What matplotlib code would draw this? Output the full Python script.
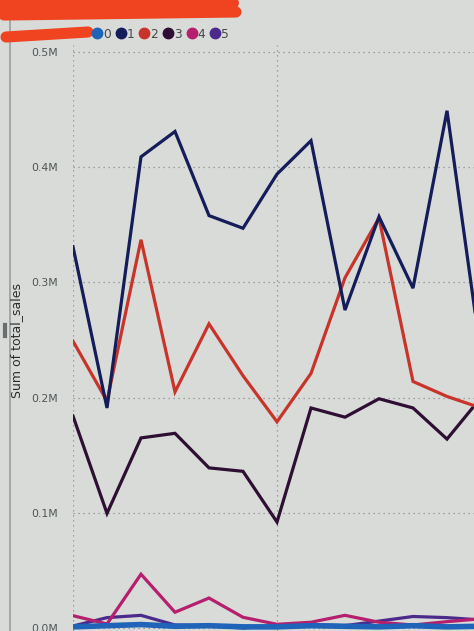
import matplotlib
matplotlib.use("Agg")
import matplotlib.pyplot as plt
from matplotlib.lines import Line2D
from matplotlib.ticker import FuncFormatter

# ---- data (values in millions) ----
periods = list(range(13))
series_names = ["0", "1", "2", "3", "4", "5"]
s0 = [0.001, 0.002, 0.003, 0.0015, 0.002, 0.001, 0.001, 0.002, 0.0015, 0.001, 0.002, 0.001, 0.0015]
s1 = [0.331, 0.191, 0.409, 0.431, 0.358, 0.347, 0.394, 0.423, 0.276, 0.357, 0.295, 0.449, 0.237]
s2 = [0.249, 0.197, 0.337, 0.205, 0.264, 0.219, 0.179, 0.221, 0.304, 0.356, 0.214, 0.201, 0.191]
s3 = [0.184, 0.0995, 0.165, 0.169, 0.139, 0.136, 0.092, 0.191, 0.183, 0.199, 0.191, 0.164, 0.200]
s4 = [0.0107, 0.0035, 0.0467, 0.0137, 0.026, 0.0093, 0.0032, 0.005, 0.011, 0.005, 0.0026, 0.0055, 0.008]
s5 = [0.0017, 0.009, 0.011, 0.0026, 0.002, 0.0, 0.002, 0.003, 0.002, 0.006, 0.010, 0.009, 0.007]
y_ticks = [0.0, 0.1, 0.2, 0.3, 0.4, 0.5]
y_label = "Sum of total_sales"

colors = ["#1f64b8", "#141c5a", "#c9342a", "#2e0f33", "#b51f6e", "#4b2a8c"]
widths = [4.0, 2.3, 2.3, 2.3, 2.3, 2.3]
all_series = [s0, s1, s2, s3, s4, s5]

W, H = 474, 631
fig = plt.figure(figsize=(W / 100, H / 100), dpi=100)
bg = "#d8dbd8"
fig.patch.set_facecolor(bg)

# axes placed in pixel coords: left x=73, right x=474, top y=45, bottom y=631
left, right, top, bottom = 73, 474, 45, 631
ax = fig.add_axes([left / W, 1 - bottom / H, (right - left) / W, (bottom - top) / H])
ax.set_facecolor(bg)

for s, c, w in list(zip(all_series, colors, widths))[::-1]:
    ax.plot(periods, s, color=c, lw=w, solid_joinstyle="miter", clip_on=True)

px_per_unit_x = 34.0
ax.set_xlim(0, (right - left) / px_per_unit_x)
px_per_unit_y = 1152.0
zero_px = 628
ax.set_ylim(-(bottom - zero_px) / px_per_unit_y, (zero_px - top) / px_per_unit_y)

ax.set_yticks(y_ticks)
ax.yaxis.set_major_formatter(FuncFormatter(lambda v, p: f"{v:.1f}M"))
ax.set_xticks([0, 6])
ax.set_xticklabels([])
ax.tick_params(axis="both", length=0, labelsize=7.8, labelcolor="#505558", pad=10.5)
ax.grid(True, color="#8a8f8f", linestyle=(0, (1, 3)), lw=0.9)
ax.set_axisbelow(True)
for sp in ax.spines.values():
    sp.set_visible(False)

fig.text(17 / W, 1 - 340 / H, y_label, rotation=90, ha="center", va="center",
         fontsize=9, color="#2a2d2e")

# legend
handles = [Line2D([], [], marker="o", linestyle="none", markersize=7.5,
                  markerfacecolor=c, markeredgecolor=c) for c in colors]
fig.legend(handles, series_names, loc="center left", ncol=6,
           bbox_to_anchor=(91 / W, 1 - 34 / H), frameon=False, fontsize=8.8,
           handletextpad=0.0, columnspacing=0.3, handlelength=1.0,
           labelcolor="#444848", borderaxespad=0, borderpad=0)

# screen bezel line and small mark at left edge
fig.add_artist(Line2D([10 / W, 10 / W], [0, 1 - 8 / H], color="#9a9e9e", lw=1.2))
fig.add_artist(Line2D([5 / W, 5 / W], [1 - 325 / H, 1 - 336 / H], color="#6a6e6e", lw=3))

# redaction strokes seen in the photo
red = "#f0431f"
fig.add_artist(Line2D([0 / W, 232 / W], [1 - 5 / H, 1 - 3 / H], color=red, lw=10, solid_capstyle="round"))
fig.add_artist(Line2D([4 / W, 236 / W], [1 - 15 / H, 1 - 12 / H], color=red, lw=8, solid_capstyle="round"))
fig.add_artist(Line2D([6 / W, 88 / W], [1 - 37 / H, 1 - 32 / H], color=red, lw=8, solid_capstyle="round"))

fig.savefig("out.png", dpi=100, facecolor=bg)
